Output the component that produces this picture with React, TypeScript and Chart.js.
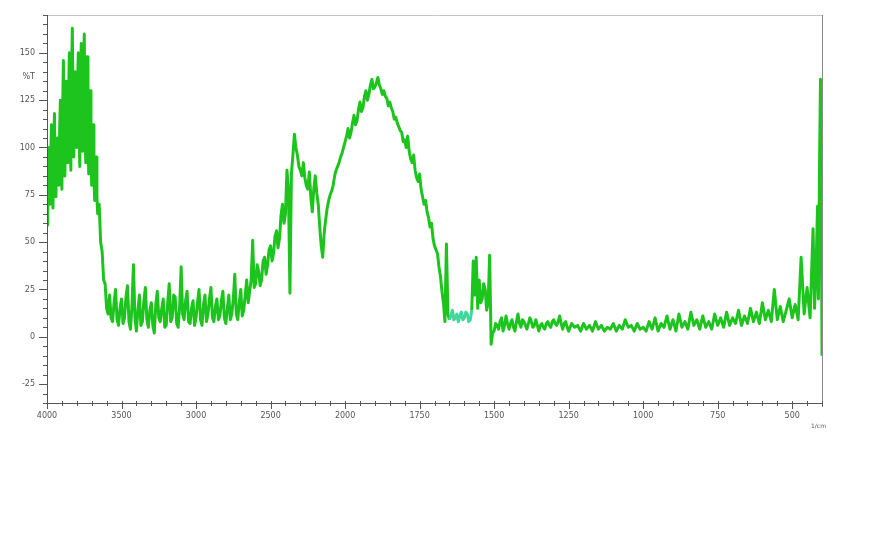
import React, { useEffect, useRef } from "react";
import { Chart, registerables } from "chart.js";

Chart.register(...registerables);

// IR spectrum: [wavenumber (cm-1), %T]
const bandOH: [number, number][] = [
  [4000, 59], [3995, 82], [3990, 100], [3985, 76], [3980, 70], [3975, 95], [3970, 112], [3965, 80],
  [3960, 68], [3955, 100], [3950, 118], [3945, 85], [3940, 74], [3935, 98], [3930, 105], [3925, 84],
  [3920, 80], [3915, 110], [3910, 125], [3905, 92], [3900, 78], [3895, 120], [3890, 146], [3885, 100],
  [3880, 85], [3875, 118], [3870, 135], [3865, 104], [3860, 92], [3855, 128], [3850, 150], [3845, 110],
  [3840, 88], [3835, 140], [3830, 163], [3825, 118], [3820, 95], [3815, 125], [3810, 140], [3805, 112],
  [3800, 100], [3795, 132], [3790, 150], [3785, 108], [3780, 90], [3775, 136], [3770, 155], [3765, 115],
  [3760, 98], [3755, 140], [3750, 160], [3745, 112], [3740, 92], [3735, 130], [3730, 148], [3725, 104],
  [3720, 86], [3715, 112], [3710, 130], [3705, 96], [3700, 80], [3695, 100], [3690, 112], [3685, 84],
  [3680, 72], [3675, 88], [3670, 95], [3665, 74], [3660, 65], [3650, 70], [3640, 50], [3630, 45],
  [3620, 30], [3610, 28], [3600, 15],
];

const bandCH: [number, number][] = [
  [3590, 12], [3580, 22], [3570, 10], [3560, 8], [3550, 18], [3540, 25], [3530, 9], [3520, 6],
  [3510, 15], [3500, 20], [3490, 7], [3480, 10], [3470, 21], [3460, 27], [3450, 8], [3440, 4],
  [3430, 16], [3420, 38], [3410, 10], [3400, 3], [3390, 14], [3380, 22], [3370, 6], [3360, 8],
  [3350, 19], [3340, 26], [3330, 9], [3320, 5], [3310, 14], [3300, 18], [3290, 6], [3280, 2],
  [3270, 17], [3260, 24], [3250, 10], [3240, 8], [3230, 15], [3220, 20], [3210, 5], [3200, 6],
  [3190, 18], [3180, 28], [3170, 8], [3160, 10], [3150, 22], [3140, 21], [3130, 7], [3120, 5],
  [3110, 16], [3100, 37], [3090, 12], [3080, 9], [3070, 19], [3060, 24], [3050, 8], [3040, 7],
  [3030, 15], [3020, 19], [3010, 6], [3000, 10], [2990, 18], [2980, 25], [2970, 9], [2960, 6],
  [2950, 17], [2940, 22], [2930, 8], [2920, 12], [2910, 20], [2900, 26], [2890, 10], [2880, 8],
  [2870, 16], [2860, 20], [2850, 9], [2840, 11], [2830, 19], [2820, 24], [2810, 10], [2800, 7],
  [2790, 15], [2780, 22], [2770, 9], [2760, 12], [2750, 20], [2740, 33], [2730, 12], [2720, 9],
  [2710, 18], [2700, 25], [2690, 11], [2680, 14], [2670, 22], [2660, 30],
];

const bandMid: [number, number][] = [
  [2650, 18], [2640, 24], [2630, 30], [2620, 51], [2610, 26], [2600, 28], [2590, 38], [2580, 35],
  [2570, 27], [2560, 30], [2550, 40], [2540, 42], [2530, 33], [2520, 38], [2510, 46], [2500, 48],
  [2490, 40], [2480, 44], [2470, 53], [2460, 56], [2450, 47], [2440, 52], [2430, 64], [2420, 70],
  [2410, 60], [2400, 65], [2390, 88], [2380, 78], [2370, 23], [2360, 86], [2350, 96], [2340, 107],
  [2330, 100], [2320, 96], [2310, 90], [2300, 88], [2290, 85], [2280, 92], [2270, 84], [2260, 80],
  [2250, 78], [2240, 87], [2230, 74], [2220, 66], [2210, 78], [2200, 85], [2190, 76], [2180, 70],
  [2170, 58], [2160, 48], [2150, 42], [2140, 55], [2130, 62], [2120, 68], [2110, 72], [2100, 75],
  [2090, 77], [2080, 80], [2070, 85], [2060, 88], [2050, 90], [2040, 92], [2030, 95], [2020, 97],
  [2010, 100], [2000, 103],
];

const bandPeak: [number, number][] = [
  [1995, 106], [1990, 110], [1985, 105], [1980, 108], [1975, 113], [1970, 117], [1965, 112], [1960, 114],
  [1955, 120], [1950, 124], [1945, 119], [1940, 121], [1935, 127], [1930, 130], [1925, 125], [1920, 128],
  [1915, 133], [1910, 136], [1905, 131], [1900, 132], [1895, 134], [1890, 137], [1885, 133], [1880, 131],
  [1875, 128], [1870, 130], [1865, 127], [1860, 126], [1855, 122], [1850, 124], [1845, 121], [1840, 119],
  [1835, 115], [1830, 116], [1825, 113], [1820, 111], [1815, 109], [1810, 108], [1805, 103], [1800, 104],
  [1795, 100], [1790, 106], [1785, 98], [1780, 94], [1775, 92], [1770, 96], [1765, 88], [1760, 84],
  [1755, 82], [1750, 86], [1745, 78], [1740, 74], [1735, 70], [1730, 72], [1725, 66], [1720, 63],
  [1715, 58], [1710, 60], [1705, 52], [1700, 48], [1695, 46], [1690, 44], [1685, 37], [1680, 32],
  [1675, 24], [1670, 18], [1665, 8], [1660, 49], [1655, 12], [1650, 9],
];

const bandFinger1: [number, number][] = [
  [1645, 11], [1640, 14], [1635, 9], [1630, 10], [1625, 12], [1620, 8], [1615, 11], [1610, 13],
  [1605, 9], [1600, 10], [1595, 13], [1590, 12], [1585, 8], [1580, 9],
];

const bandFinger2: [number, number][] = [
  [1575, 14], [1570, 40], [1565, 22], [1560, 42], [1555, 15], [1550, 30], [1545, 18], [1540, 20],
  [1535, 28], [1530, 25], [1525, 14], [1520, 18], [1515, 43], [1510, -4], [1505, 2], [1500, 3],
  [1495, 7], [1490, 6],
];

const bandLow: [number, number][] = [
  [1485, 4], [1480, 8], [1475, 10], [1470, 3], [1465, 6], [1460, 11], [1455, 7], [1450, 4],
  [1445, 7], [1440, 9], [1435, 5], [1430, 3], [1425, 8], [1420, 12], [1415, 7], [1410, 5],
  [1405, 9], [1400, 8], [1395, 6], [1390, 4], [1385, 7], [1380, 10], [1375, 8], [1370, 5],
  [1365, 6], [1360, 9], [1355, 6], [1350, 3], [1345, 6], [1340, 7], [1335, 5], [1330, 4],
  [1325, 7], [1320, 8], [1315, 6], [1310, 5], [1305, 8], [1300, 9], [1295, 7], [1290, 6],
  [1285, 8], [1280, 11], [1275, 7], [1270, 4], [1265, 7], [1260, 8], [1255, 5], [1250, 3],
  [1240, 7], [1230, 5], [1220, 6], [1210, 3], [1200, 7], [1190, 4], [1180, 6], [1170, 3],
  [1160, 8], [1150, 4], [1140, 6], [1130, 3], [1120, 5], [1110, 4], [1100, 7], [1090, 3],
  [1080, 6], [1070, 4], [1060, 9], [1050, 5], [1040, 6], [1030, 3], [1020, 7], [1010, 4],
  [1000, 5], [990, 3], [980, 8], [970, 4], [960, 10], [950, 3], [940, 7], [930, 5],
  [920, 11], [910, 4], [900, 9], [890, 3], [880, 12], [870, 5], [860, 8], [850, 4],
  [840, 13], [830, 6], [820, 9], [810, 4], [800, 11], [790, 5], [780, 8], [770, 4],
  [760, 12], [750, 6], [740, 10], [730, 5], [720, 13], [710, 6], [700, 10], [690, 7],
  [680, 14], [670, 6], [660, 11], [650, 7], [640, 15], [630, 8], [620, 13], [610, 7],
  [600, 18], [590, 9], [580, 14], [570, 8], [560, 25], [550, 9], [540, 16], [530, 8],
  [520, 14], [510, 20], [500, 10], [490, 17], [480, 9], [470, 42], [460, 12], [450, 26],
  [440, 10], [430, 57], [425, 15], [420, 35], [415, 69], [412, 20], [408, 95], [405, 136],
  [402, 60], [400, -10],
];

const xTickWavenumbers = [4000, 3500, 3000, 2500, 2000, 1750, 1500, 1250, 1000, 750, 500];
const yTickValues = [-25, 0, 25, 50, 75, 100, 125, 150];
const yUnitLabel = "%T";
const xUnitLabel = "1/cm";

// split-scale abscissa: 4000-2000 at 500/unit, 2000-400 at 250/unit
const toAxis = (w: number) => (w >= 2000 ? (4000 - w) / 500 : 4 + (2000 - w) / 250);

const spectrum = [...bandOH, ...bandCH, ...bandMid, ...bandPeak, ...bandFinger1, ...bandFinger2, ...bandLow];
const fingerStart = toAxis(1650);
const fingerEnd = toAxis(1575);

const axesPlugin = {
  id: "irAxes",
  afterDraw(chart: any) {
    const { ctx, chartArea: a, scales } = chart;
    const xs = scales.x;
    const ys = scales.y;
    ctx.save();
    ctx.lineWidth = 1;
    ctx.strokeStyle = "#c4c4c4";
    ctx.beginPath();
    ctx.moveTo(a.left, a.top + 0.5);
    ctx.lineTo(a.right, a.top + 0.5);
    ctx.stroke();
    ctx.strokeStyle = "#8a8a8a";
    ctx.beginPath();
    ctx.moveTo(a.right + 0.5, a.top);
    ctx.lineTo(a.right + 0.5, a.bottom + 4);
    ctx.stroke();
    ctx.strokeStyle = "#555";
    ctx.beginPath();
    ctx.moveTo(a.left + 0.5, a.top);
    ctx.lineTo(a.left + 0.5, a.bottom + 5);
    ctx.moveTo(a.left - 2, a.bottom + 0.5);
    ctx.lineTo(a.right, a.bottom + 0.5);
    ctx.stroke();
    for (let k = 0; k <= 52; k++) {
      const px = Math.round(xs.getPixelForValue(k * 0.2)) + 0.5;
      const major = k % 5 === 0;
      ctx.beginPath();
      ctx.moveTo(px, a.bottom - 2);
      ctx.lineTo(px, a.bottom + (major ? 6 : 3));
      ctx.stroke();
    }
    ctx.fillStyle = "#555";
    ctx.font = "8px 'DejaVu Sans', sans-serif";
    ctx.textAlign = "center";
    ctx.textBaseline = "top";
    xTickWavenumbers.forEach((w) => {
      ctx.fillText(String(w), xs.getPixelForValue(toAxis(w)), a.bottom + 9);
    });
    ctx.font = "6px 'DejaVu Sans', sans-serif";
    ctx.textAlign = "right";
    ctx.fillText(xUnitLabel, a.right + 4, a.bottom + 20);
    for (let v = -35; v <= 170; v += 5) {
      const py = Math.round(ys.getPixelForValue(v)) + 0.5;
      const major = v % 25 === 0;
      ctx.beginPath();
      ctx.moveTo(a.left - (major ? 8 : 4), py);
      ctx.lineTo(a.left, py);
      ctx.stroke();
    }
    ctx.font = "8px 'DejaVu Sans', sans-serif";
    ctx.textAlign = "right";
    ctx.textBaseline = "middle";
    yTickValues.forEach((v) => {
      ctx.fillText(String(v), a.left - 12, ys.getPixelForValue(v));
    });
    ctx.fillText(yUnitLabel, a.left - 12, ys.getPixelForValue(137.5));
    ctx.restore();
  },
};

export default function App() {
  const ref = useRef<HTMLCanvasElement | null>(null);
  useEffect(() => {
    if (!ref.current) return;
    const chart = new Chart(ref.current, {
      type: "line",
      data: {
        datasets: [
          {
            data: spectrum.map(([w, t]) => ({ x: toAxis(w), y: t })),
            borderColor: "#1ec41e",
            borderWidth: 3,
            borderJoinStyle: "round",
            pointRadius: 0,
            tension: 0,
            fill: false,
            segment: {
              borderColor: (c: any) =>
                c.p0.parsed.x >= fingerStart && c.p1.parsed.x <= fingerEnd ? "#3fd89a" : "#1ec41e",
            },
          },
        ],
      },
      options: {
        responsive: false,
        animation: false,
        layout: { padding: { left: 47, top: 15, right: 58, bottom: 147 } },
        plugins: { legend: { display: false }, tooltip: { enabled: false } },
        scales: {
          x: { type: "linear", min: 0, max: 10.4, display: false },
          y: { type: "linear", min: -35, max: 170, display: false },
        },
      },
      plugins: [axesPlugin],
    });
    return () => chart.destroy();
  }, []);
  return (
    <div style={{ position: "fixed", left: 0, top: 0, width: 880, height: 550, background: "#fff" }}>
      <canvas ref={ref} width={880} height={550} />
    </div>
  );
}
